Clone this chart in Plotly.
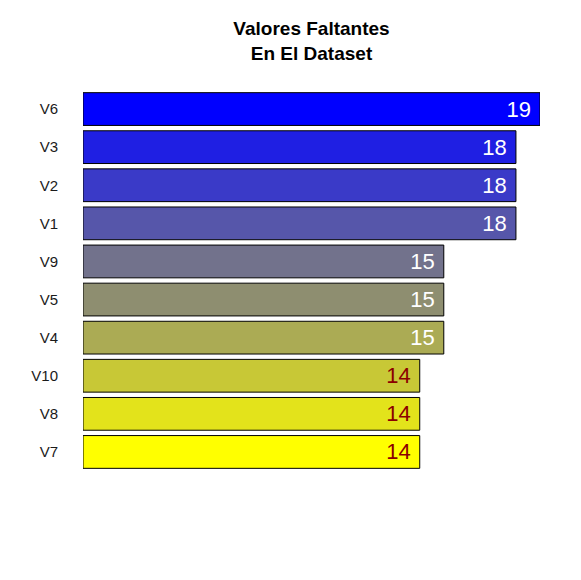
import plotly.graph_objects as go

# data, top to bottom
variables = ["V6", "V3", "V2", "V1", "V9", "V5", "V4", "V10", "V8", "V7"]
missing_counts = [19, 18, 18, 18, 15, 15, 15, 14, 14, 14]
bar_colors = ["#0000ff", "#1f1fe3", "#3a3ac8", "#5656aa", "#72728c",
              "#8e8e70", "#abab54", "#c8c836", "#e3e31b", "#ffff00"]
label_colors = ["white"] * 7 + ["#8b0000"] * 3

fig = go.Figure()
fig.add_trace(go.Bar(
    x=missing_counts,
    y=variables,
    orientation="h",
    width=0.86,
    marker=dict(color=bar_colors, line=dict(color="black", width=1)),
    text=[f"{v}\u00a0" for v in missing_counts],
    textposition="inside",
    insidetextanchor="end",
    textfont=dict(family="Liberation Sans, Arial, sans-serif", size=22, color=label_colors),
    cliponaxis=False,
    hoverinfo="skip",
))

fig.update_layout(
    width=581, height=580,
    margin=dict(l=75, r=49, t=82, b=117),
    paper_bgcolor="white", plot_bgcolor="white",
    showlegend=False,
    title=dict(
        text="<b>Valores Faltantes<br>En El Dataset</b>",
        x=0.5, xref="paper", xanchor="center",
        y=0.953, yref="container", yanchor="top",
        font=dict(family="Liberation Sans, Arial, sans-serif", size=19, color="black"),
    ),
    xaxis=dict(range=[0, 19], visible=False, fixedrange=True),
    yaxis=dict(
        categoryorder="array", categoryarray=variables,
        autorange="reversed",
        showgrid=False, zeroline=False, showline=False, ticks="",
        ticklabelstandoff=24,
        tickfont=dict(family="Liberation Sans, Arial, sans-serif", size=15, color="#1a1a1a"),
    ),
    uniformtext=dict(mode="show", minsize=22),
)

fig.write_html("out.html")
